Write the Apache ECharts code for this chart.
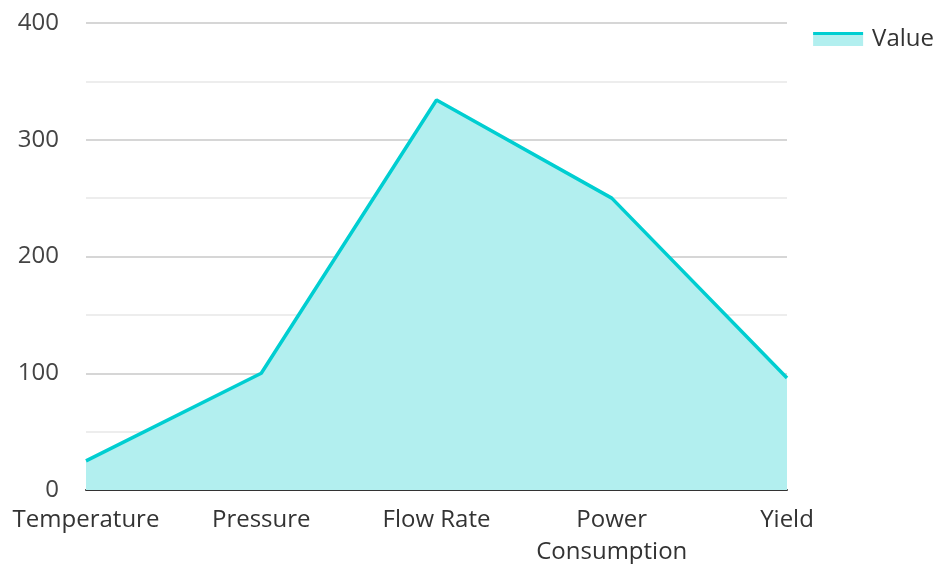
<!DOCTYPE html>
<html><head><meta charset="utf-8">
<script src="https://cdn.jsdelivr.net/npm/echarts@6/dist/echarts.min.js"></script>
<style>html,body{margin:0;padding:0;background:#fff;overflow:hidden;width:100%;height:100%}#c{width:100vw;height:100vh}</style>
</head><body><div id="c"></div>
<script>
const categories = ['Temperature', 'Pressure', 'Flow Rate', 'Power Consumption', 'Yield'];
const values = [25, 100, 334, 250, 96];
const seriesName = 'Value';
const yTicks = [0, 100, 200, 300, 400];

const chart = echarts.init(document.getElementById('c'));
chart.setOption({
  animation: false,
  textStyle: { fontFamily: 'Open Sans' },
  grid: { left: 86, right: 150, top: 23, bottom: 74, containLabel: false, outerBoundsMode: 'none' },
  legend: {
    right: 3, top: 27, padding: 0,
    icon: 'rect',
    itemWidth: 50, itemHeight: 14,
    itemGap: 10,
    textStyle: { fontSize: 24, color: '#333', fontFamily: 'Open Sans', padding: [0, 0, 12, 4] },
    data: [{
      name: seriesName,
      itemStyle: {
        color: { type: 'linear', x: 0, y: 0, x2: 0, y2: 1, colorStops: [
          { offset: 0, color: '#00CED1' }, { offset: 0.22, color: '#00CED1' },
          { offset: 0.22, color: '#b2efef' }, { offset: 1, color: '#b2efef' }] }
      }
    }]
  },
  xAxis: {
    type: 'category', data: categories, boundaryGap: false,
    axisLine: { lineStyle: { color: '#333', width: 2 } },
    axisTick: { show: false },
    axisLabel: {
      fontSize: 24, color: '#333', margin: 14, interval: 0,
      formatter: v => v === 'Power Consumption' ? 'Power\nConsumption' : v,
      lineHeight: 32
    }
  },
  yAxis: {
    type: 'value', min: 0, max: 400, interval: 100,
    axisLine: { show: false }, axisTick: { show: false },
    axisLabel: { fontSize: 24, color: '#444', margin: 27,
      formatter: v => yTicks.includes(v) ? String(v) : '' },
    splitLine: { lineStyle: { color: '#c8c8c8', width: 1.5 } },
    minorTick: { show: false, splitNumber: 2 },
    minorSplitLine: { show: true, lineStyle: { color: '#e8e8e8', width: 1.5 } }
  },
  series: [{
    name: seriesName, type: 'line', data: values,
    showSymbol: false, symbol: 'none',
    lineStyle: { color: '#00CED1', width: 3.5 },
    itemStyle: { color: '#00CED1' },
    areaStyle: { color: '#b2efef', opacity: 1, origin: 'start' }
  }]
});
</script></body></html>
